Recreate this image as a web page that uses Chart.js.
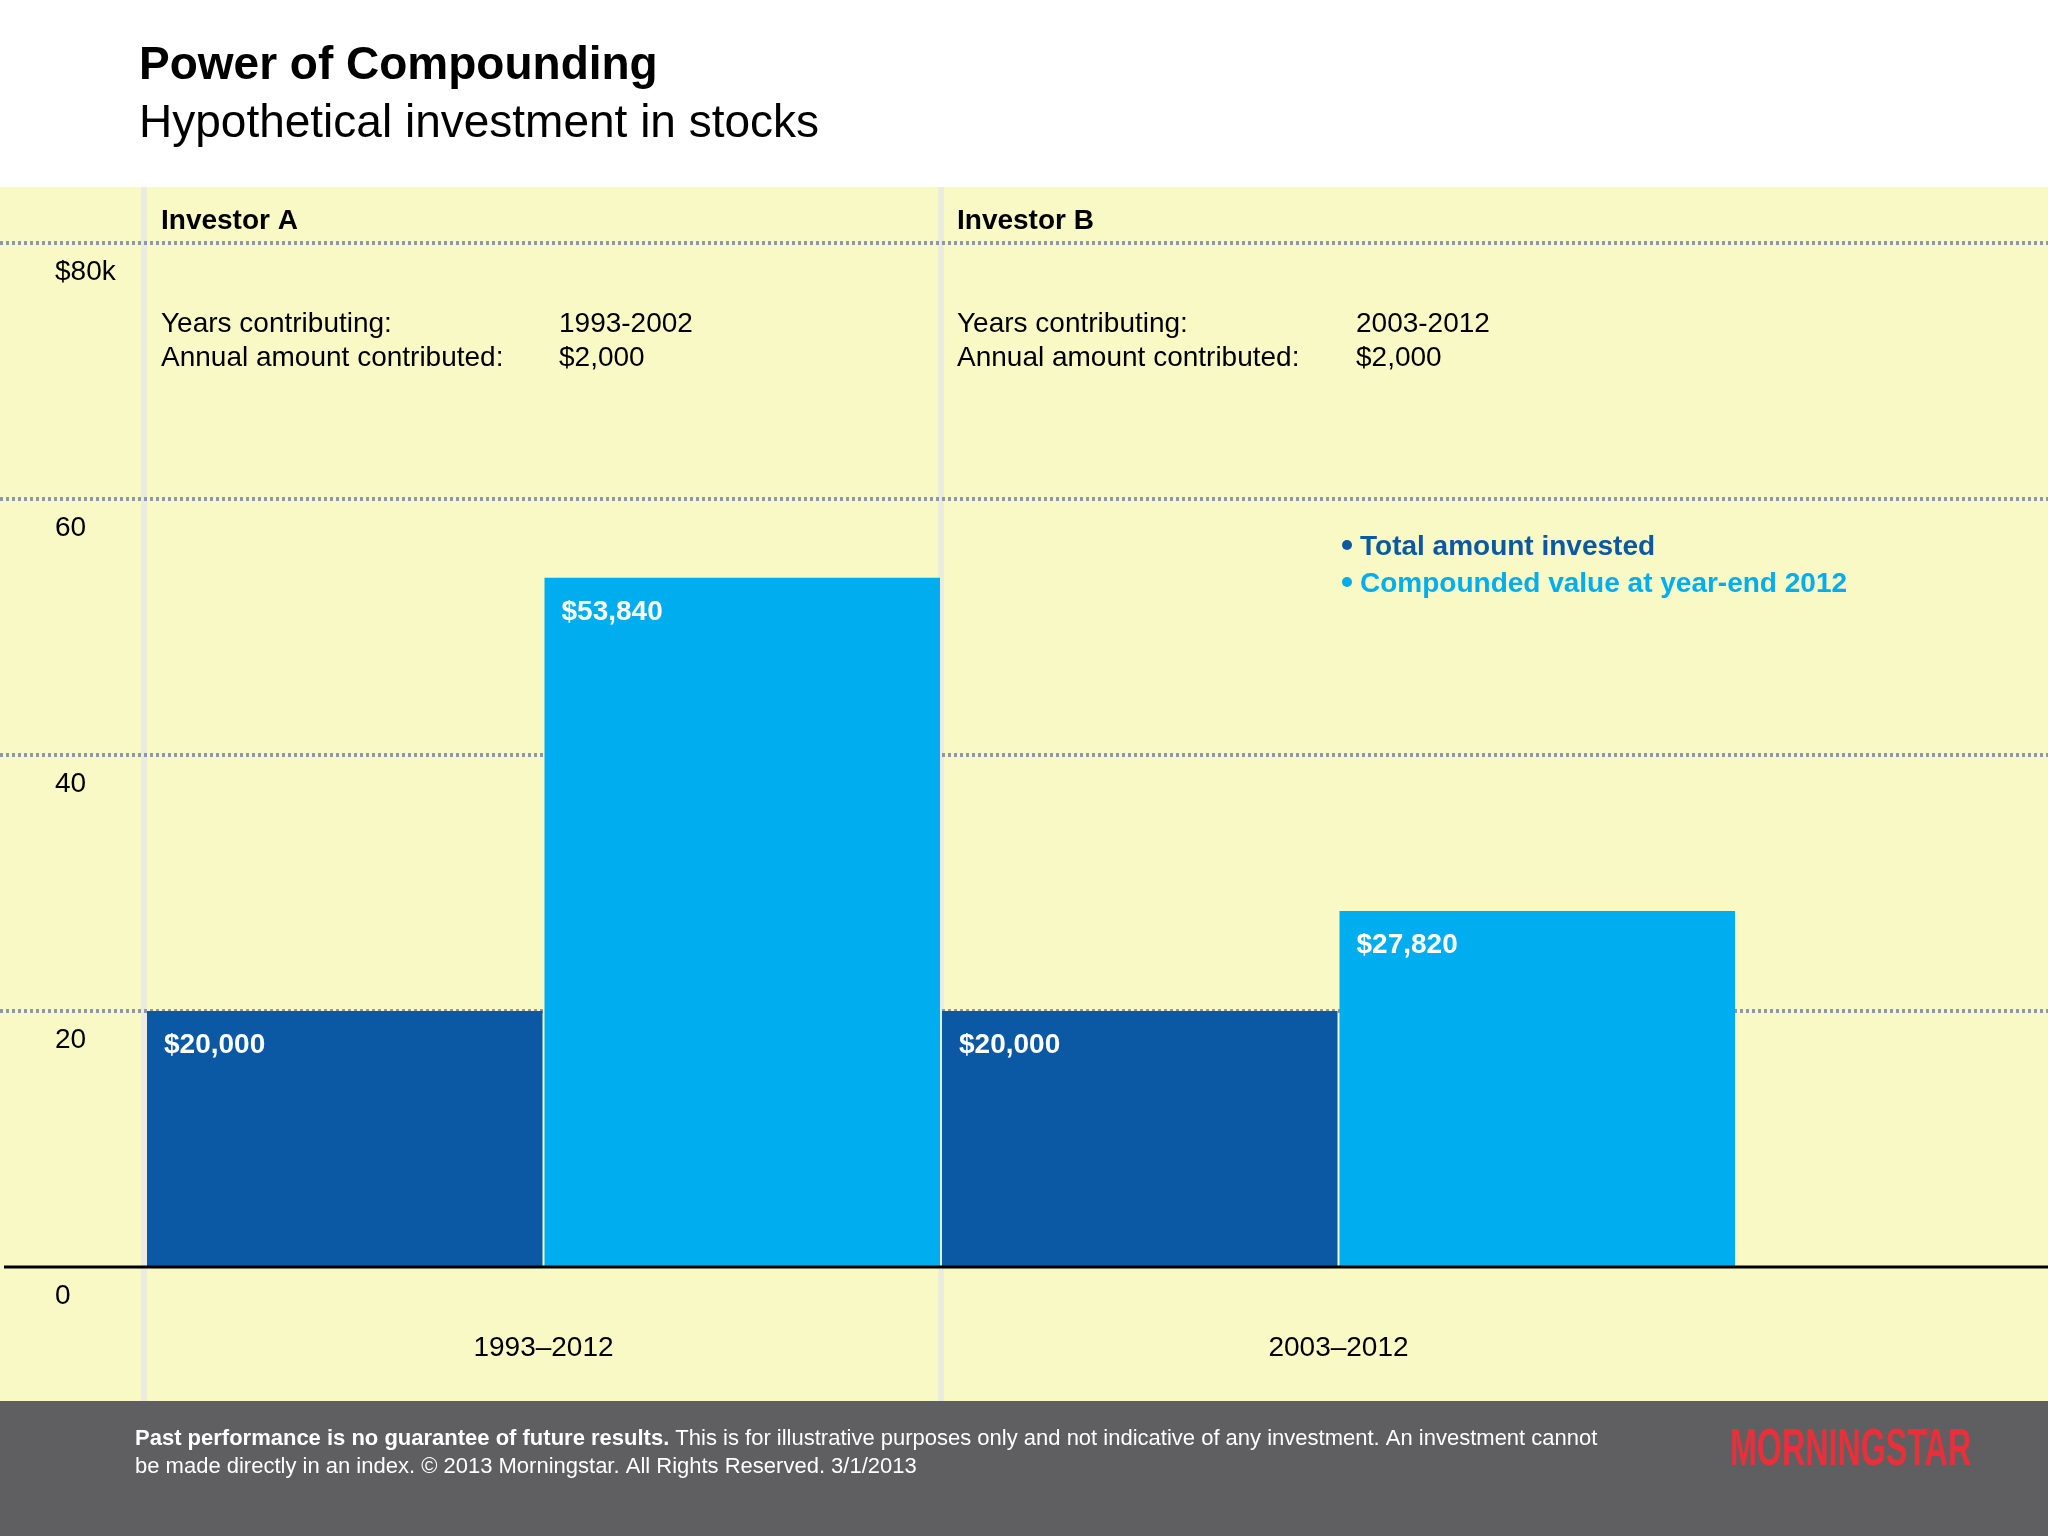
<!DOCTYPE html>
<html>
<head>
<meta charset="utf-8">
<script src="https://cdn.jsdelivr.net/npm/chart.js@4"></script>
<style>
  body { margin: 0; background: #fff; }
  canvas { display: block; }
</style>
</head>
<body>
<canvas id="chart" width="2048" height="1536"></canvas>
<script>
const categories = ['1993–2012', '2003–2012'];
const totalInvested = [20000, 20000];
const compoundedValue = [53840, 27820];
const yTicks = [0, 20000, 40000, 60000, 80000];
const yTickLabels = ['0', '20', '40', '60', '$80k'];
const seriesNames = ['Total amount invested', 'Compounded value at year-end 2012'];
const investors = ['Investor A', 'Investor B'];
const yearsContributing = ['1993-2002', '2003-2012'];
const annualAmount = ['$2,000', '$2,000'];

const DARK = '#0b59a5';
const LIGHT = '#00adef';
const FONT = '"Liberation Sans", Arial, sans-serif';

function fmt(v) { return '$' + v.toLocaleString('en-US'); }

const decor = {
  id: 'decor',
  beforeDraw(chart) {
    const c = chart.ctx;
    const y = chart.scales.y;
    c.save();
    c.fillStyle = '#ffffff';
    c.fillRect(0, 0, 2048, 1536);
    c.fillStyle = '#f8f9c4';
    c.fillRect(0, 187, 2048, 1214);
    c.fillStyle = '#5f5e60';
    c.fillRect(0, 1401, 2048, 135);

    // column separators
    c.fillStyle = '#ebebdf';
    c.fillRect(141, 187, 6, 1214);
    c.fillRect(938, 187, 6, 1214);

    // titles
    c.fillStyle = '#000';
    c.textBaseline = 'middle';
    c.font = 'bold 46px ' + FONT;
    c.fillText('Power of Compounding', 139, 66);
    c.font = '46px ' + FONT;
    c.fillText('Hypothetical investment in stocks', 139, 124);

    // dotted gridlines
    c.strokeStyle = '#8b9aa6';
    c.lineWidth = 4;
    c.setLineDash([3, 3]);
    yTicks.slice(1).forEach(t => {
      const py = Math.round(y.getPixelForValue(t));
      c.beginPath(); c.moveTo(0, py); c.lineTo(2048, py); c.stroke();
    });
    c.setLineDash([]);

    // y tick labels
    c.fillStyle = '#000';
    c.font = '28px ' + FONT;
    yTicks.forEach((t, i) => {
      c.fillText(yTickLabels[i], 55, y.getPixelForValue(t) + 29);
    });

    // x labels
    c.textAlign = 'center';
    categories.forEach((cat, i) => {
      c.fillText(cat, chart.scales.x.getPixelForValue(i), 1348);
    });
    c.textAlign = 'left';

    // investor panels
    const px = [161, 957], vx = [559, 1356];
    investors.forEach((name, i) => {
      c.font = 'bold 28px ' + FONT;
      c.fillText(name, px[i], 221);
      c.font = '28px ' + FONT;
      c.fillText('Years contributing:', px[i], 324);
      c.fillText('Annual amount contributed:', px[i], 358);
      c.fillText(yearsContributing[i], vx[i], 324);
      c.fillText(annualAmount[i], vx[i], 358);
    });

    // legend
    c.font = 'bold 28px ' + FONT;
    [DARK, LIGHT].forEach((col, i) => {
      const ly = 547 + i * 37;
      c.fillStyle = col;
      c.beginPath(); c.arc(1347, ly - 2, 5, 0, Math.PI * 2); c.fill();
      c.fillText(seriesNames[i], 1360, ly);
    });

    // footer
    c.fillStyle = '#fff';
    c.font = 'bold 22px ' + FONT;
    const b = 'Past performance is no guarantee of future results.';
    c.fillText(b, 135, 1439);
    const bw = c.measureText(b).width;
    c.font = '22px ' + FONT;
    c.fillText(' This is for illustrative purposes only and not indicative of any investment. An investment cannot', 135 + bw, 1439);
    c.fillText('be made directly in an index. © 2013 Morningstar. All Rights Reserved. 3/1/2013', 135, 1467);

    // logo
    c.fillStyle = '#e8303a';
    c.save();
    c.translate(1730, 1451);
    c.scale(0.62, 1);
    c.font = 'bold 52px "Liberation Sans Narrow", ' + FONT;
    c.fillText('MORNINGSTAR', 0, 0);
    c.restore();
    c.font = '12px ' + FONT;
    c.fillText('®', 1922, 1434);
    c.restore();
  },
  afterDatasetsDraw(chart) {
    const c = chart.ctx;
    const y = chart.scales.y;
    c.save();
    // zero line
    c.strokeStyle = '#000';
    c.lineWidth = 3;
    const py = y.getPixelForValue(0);
    c.beginPath(); c.moveTo(4, py); c.lineTo(2048, py); c.stroke();
    // bar value labels
    c.fillStyle = '#fff';
    c.font = 'bold 28px ' + FONT;
    c.textBaseline = 'middle';
    chart.data.datasets.forEach((ds, di) => {
      chart.getDatasetMeta(di).data.forEach((bar, i) => {
        c.fillText(fmt(ds.data[i]), bar.x - bar.width / 2 + 17, bar.y + 34);
      });
    });
    c.restore();
  }
};

new Chart(document.getElementById('chart'), {
  type: 'bar',
  data: {
    labels: categories,
    datasets: [
      { label: seriesNames[0], data: totalInvested, backgroundColor: DARK },
      { label: seriesNames[1], data: compoundedValue, backgroundColor: LIGHT }
    ]
  },
  options: {
    responsive: false,
    animation: false,
    devicePixelRatio: 1,
    layout: { padding: { left: 146, right: 312, top: 243, bottom: 269 } },
    datasets: { bar: { categoryPercentage: 1, barPercentage: 0.995 } },
    scales: {
      x: { display: false },
      y: { display: false, min: 0, max: 80000 }
    },
    plugins: { legend: { display: false }, tooltip: { enabled: false } }
  },
  plugins: [decor]
});
</script>
</body>
</html>
